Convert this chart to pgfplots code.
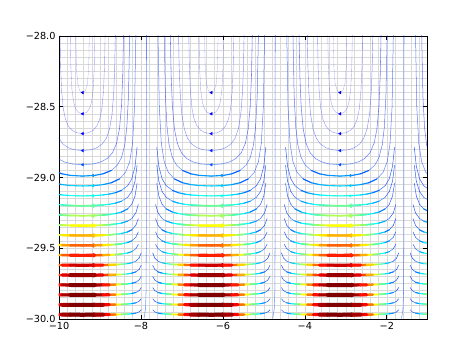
\documentclass[border=0pt]{standalone}
\usepackage{fontspec}
\setmainfont{DejaVu Sans}
\usepackage{pgfplots}
\usepackage{pgfplotstable}
\pgfplotsset{compat=1.18}

% ---- streamline templates (d = x offset from cell centre) ----
\pgfplotstableread{
d q c
-1.43 8.69 0.095
-1.38 5.068 0.136
-1.30 2.864 0.206
-1.20 1.714 0.296
-1.10 1.131 0.387
-0.95 0.655 0.522
-0.80 0.390 0.648
-0.65 0.2275 0.761
-0.50 0.123 0.855
-0.30 0.041 0.947
0 0 1
0.30 0.041 0.947
0.50 0.123 0.855
0.65 0.2275 0.761
0.80 0.390 0.648
0.95 0.655 0.522
1.10 1.131 0.387
1.20 1.714 0.296
1.30 2.864 0.206
1.38 5.068 0.136
1.43 8.69 0.095
}\TA
\pgfplotstableread{
d q c
-1.36 5.944 0.153
-1.30 3.589 0.206
-1.20 1.998 0.296
-1.10 1.272 0.387
-0.95 0.717 0.522
-0.80 0.421 0.648
-0.65 0.243 0.761
-0.50 0.131 0.855
-0.30 0.0435 0.947
0 0 1
0.30 0.0435 0.947
0.50 0.131 0.855
0.65 0.243 0.761
0.80 0.421 0.648
0.95 0.717 0.522
1.10 1.272 0.387
1.20 1.998 0.296
1.30 3.589 0.206
1.36 5.944 0.153
}\TB
\pgfplotstableread{
d q c
-1.33 7.15 0.179
-1.28 4.333 0.223
-1.20 2.498 0.296
-1.10 1.5 0.387
-0.95 0.810 0.522
-0.80 0.465 0.648
-0.65 0.265 0.761
-0.50 0.1415 0.855
-0.30 0.0467 0.947
0 0 1
0.30 0.0467 0.947
0.50 0.1415 0.855
0.65 0.265 0.761
0.80 0.465 0.648
0.95 0.810 0.522
1.10 1.5 0.387
1.20 2.498 0.296
1.28 4.333 0.223
1.33 7.15 0.179
}\TC
\pgfplotstableread{
d q c
-1.30 -27.99 0.17
-1.27 -28.497 0.17
-1.22 -28.759 0.17
-1.15 -28.888 0.17
-1.05 -28.963 0.18
-0.90 -29.0102 0.2
-0.70 -29.0373 0.246
-0.50 -29.0502 0.291
-0.30 -29.0568 0.322
0 -29.06 0.34
0.30 -29.0568 0.322
0.50 -29.0502 0.291
0.70 -29.0373 0.246
0.90 -29.0102 0.2
1.05 -28.963 0.18
1.15 -28.888 0.17
1.22 -28.759 0.17
1.27 -28.497 0.17
1.30 -27.99 0.17
}\TD
\pgfplotstableread{
d q c
-1.15 -27.98 0.16
-1.12 -28.425 0.16
-1.08 -28.646 0.16
-1.03 -28.769 0.16
-0.95 -28.859 0.17
-0.85 -28.912 0.18
-0.70 -28.9505 0.203
-0.50 -28.974 0.239
-0.30 -28.985 0.265
0 -28.99 0.28
0.30 -28.985 0.265
0.50 -28.974 0.239
0.70 -28.9505 0.203
0.85 -28.912 0.18
0.95 -28.859 0.17
1.03 -28.769 0.16
1.08 -28.646 0.16
1.12 -28.425 0.16
1.15 -27.98 0.16
}\TE
\pgfplotstableread{
d q c
-1.00 -27.994 0.15
-0.98 -28.283 0.15
-0.95 -28.495 0.15
-0.90 -28.657 0.155
-0.83 -28.7586 0.16
-0.73 -28.8252 0.165
-0.60 -28.8661 0.17
-0.45 -28.8897 0.18
-0.25 -28.9046 0.19
0 -28.91 0.20
0.25 -28.9046 0.19
0.45 -28.8897 0.18
0.60 -28.8661 0.17
0.73 -28.8252 0.165
0.83 -28.7586 0.16
0.90 -28.657 0.155
0.95 -28.495 0.15
0.98 -28.283 0.15
1.00 -27.994 0.15
}\TF
\pgfplotstableread{
d q c
-0.80 -27.99 0.14
-0.785 -28.2107 0.14
-0.76 -28.4019 0.14
-0.72 -28.5517 0.14
-0.66 -28.6563 0.145
-0.58 -28.7221 0.15
-0.48 -28.7629 0.15
-0.35 -28.7895 0.155
-0.20 -28.8041 0.16
0 -28.81 0.16
0.20 -28.8041 0.16
0.35 -28.7895 0.155
0.48 -28.7629 0.15
0.58 -28.7221 0.15
0.66 -28.6563 0.145
0.72 -28.5517 0.14
0.76 -28.4019 0.14
0.785 -28.2107 0.14
0.80 -27.99 0.14
}\TG
\pgfplotstableread{
d q c
-0.55 -27.99 0.13
-0.535 -28.2186 0.13
-0.51 -28.3903 0.13
-0.47 -28.5147 0.13
-0.42 -28.5865 0.13
-0.35 -28.6354 0.13
-0.26 -28.6658 0.13
-0.15 -28.6831 0.13
0 -28.69 0.13
0.15 -28.6831 0.13
0.26 -28.6658 0.13
0.35 -28.6354 0.13
0.42 -28.5865 0.13
0.47 -28.5147 0.13
0.51 -28.3903 0.13
0.535 -28.2186 0.13
0.55 -27.99 0.13
}\TH
\pgfplotstableread{
d q c
-0.30 -27.99 0.12
-0.285 -28.2257 0.12
-0.26 -28.3753 0.12
-0.22 -28.4664 0.12
-0.17 -28.5126 0.12
-0.10 -28.5396 0.12
0 -28.55 0.12
0.10 -28.5396 0.12
0.17 -28.5126 0.12
0.22 -28.4664 0.12
0.26 -28.3753 0.12
0.285 -28.2257 0.12
0.30 -27.99 0.12
}\TI
\pgfplotstableread{
d q c
-0.165 -27.99 0.12
-0.15 -28.218 0.12
-0.12 -28.336 0.12
-0.07 -28.3858 0.12
0 -28.40 0.12
0.07 -28.3858 0.12
0.12 -28.336 0.12
0.15 -28.218 0.12
0.165 -27.99 0.12
}\TJ
\pgfplotstableread{
d q c
1.50 -29.995 0.2
1.535 -29.93 0.2
1.55 -29.80 0.19
1.555 -29.50 0.18
1.56 -27.99 0.16
}\TEDGE
\pgfplotstableread{
d y m
0.25 -29.97 1.0
0.25 -29.90 1.0
0.25 -29.83 1.0
0.25 -29.76 1.0
0.25 -29.69 0.96
0.25 -29.62 0.91
0.25 -29.55 0.84
0.25 -29.48 0.77
0.25 -29.41 0.69
0.25 -29.34 0.62
0.25 -29.27 0.54
0.25 -29.20 0.47
}\TARa
\pgfplotstableread{
d y m
0.25 -29.13 0.39
0.25 -29.058 0.33
0.25 -28.986 0.27
0 -28.91 0.21
0 -28.81 0.16
0 -28.69 0.13
0 -28.55 0.12
0 -28.40 0.11
}\TARb

\pgfplotsset{sl/.style={mesh, line cap=round, line join=round}}

% #1 table #2 shift #3 yc #4 h #5 M #6 floor #7 layers #8 base opacity
\newcommand{\SLfull}[8]{%
\addplot[sl,line width=0.5bp,opacity=#8,point meta={max(#6,min(1,#5*\thisrow{c}))}] table[x expr={\thisrow{d}+(#2)},y expr={#3+#4*\thisrow{q}}]{#1};%
\ifnum#7>0 \addplot[sl,line width=1.1bp,point meta={max(#6,min(1,#5*\thisrow{c}))},restrict expr to domain={max(#6,min(1,#5*\thisrow{c}))}{0.2:2}] table[x expr={\thisrow{d}+(#2)},y expr={#3+#4*\thisrow{q}}]{#1};\fi
\ifnum#7>1 \addplot[sl,line width=1.7bp,point meta={max(#6,min(1,#5*\thisrow{c}))},restrict expr to domain={max(#6,min(1,#5*\thisrow{c}))}{0.4:2}] table[x expr={\thisrow{d}+(#2)},y expr={#3+#4*\thisrow{q}}]{#1};\fi
\ifnum#7>2 \addplot[sl,line width=2.4bp,point meta={max(#6,min(1,#5*\thisrow{c}))},restrict expr to domain={max(#6,min(1,#5*\thisrow{c}))}{0.6:2}] table[x expr={\thisrow{d}+(#2)},y expr={#3+#4*\thisrow{q}}]{#1};\fi
\ifnum#7>3 \addplot[sl,line width=3.1bp,point meta={max(#6,min(1,#5*\thisrow{c}))},restrict expr to domain={max(#6,min(1,#5*\thisrow{c}))}{0.78:2}] table[x expr={\thisrow{d}+(#2)},y expr={#3+#4*\thisrow{q}}]{#1};\fi
\ifnum#7>4 \addplot[sl,line width=4.0bp,point meta={max(#6,min(1,#5*\thisrow{c}))},restrict expr to domain={max(#6,min(1,#5*\thisrow{c}))}{0.92:2}] table[x expr={\thisrow{d}+(#2)},y expr={#3+#4*\thisrow{q}}]{#1};\fi
}
% #1 table #2 shift #3 width #4 opacity
\newcommand{\SLthin}[4]{%
\addplot[sl,line width=#3,opacity=#4,point meta=\thisrow{c}] table[x expr={\thisrow{d}+(#2)},y=q]{#1};%
}
\newcommand{\CELL}[1]{%
\SLthin{\TJ}{#1}{0.3bp}{0.3}
\SLthin{\TI}{#1}{0.35bp}{0.35}
\SLthin{\TH}{#1}{0.4bp}{0.4}
\SLthin{\TG}{#1}{0.45bp}{0.45}
\SLthin{\TF}{#1}{0.55bp}{0.55}
\SLthin{\TEDGE}{#1}{0.55bp}{0.55}
\SLfull{\TE}{#1}{0}{1}{1}{0.15}{1}{0.6}
\SLfull{\TD}{#1}{0}{1}{1}{0.15}{1}{0.6}
\SLfull{\TC}{#1}{-29.13}{0.048}{0.41}{0.18}{2}{0.8}
\SLfull{\TC}{#1}{-29.20}{0.040}{0.49}{0.18}{2}{0.8}
\SLfull{\TC}{#1}{-29.27}{0.032}{0.56}{0.18}{2}{0.8}
\SLfull{\TB}{#1}{-29.34}{0.025}{0.64}{0.18}{3}{0.85}
\SLfull{\TB}{#1}{-29.41}{0.020}{0.72}{0.18}{3}{0.85}
\SLfull{\TB}{#1}{-29.48}{0.016}{0.80}{0.18}{4}{0.85}
\SLfull{\TB}{#1}{-29.55}{0.013}{0.87}{0.18}{4}{0.85}
\SLfull{\TA}{#1}{-29.62}{0.010}{0.95}{0.18}{5}{0.9}
\SLfull{\TA}{#1}{-29.69}{0.008}{1.00}{0.18}{5}{0.9}
\SLfull{\TA}{#1}{-29.76}{0.007}{1.05}{0.18}{5}{0.9}
\SLfull{\TA}{#1}{-29.83}{0.006}{1.07}{0.18}{5}{0.9}
\SLfull{\TA}{#1}{-29.90}{0.005}{1.08}{0.18}{5}{0.9}
\SLfull{\TA}{#1}{-29.97}{0.004}{1.08}{0.18}{5}{0.9}
\addplot[scatter,only marks,mark=triangle*,mark size=2.4bp,mark options={rotate=90},point meta=\thisrow{m},scatter/use mapped color={draw=mapped color,fill=mapped color}] table[x expr={\thisrow{d}+(#1)},y=y]{\TARa};
\addplot[scatter,only marks,mark=triangle*,mark size=1.5bp,mark options={rotate=90},point meta=\thisrow{m},scatter/use mapped color={draw=mapped color,fill=mapped color}] table[x expr={\thisrow{d}+(#1)},y=y]{\TARb};
}

\begin{document}
\begin{tikzpicture}
\begin{axis}[
  at={(0,0)}, anchor=south west,
  scale only axis, width=368bp, height=283bp,
  xmin=-10, xmax=-1.02, ymin=-30, ymax=-28,
  xtick={-10,-8,-6,-4,-2},
  xticklabels={−10,−8,−6,−4,−2},
  ytick={-30,-29.5,-29,-28.5,-28},
  yticklabels={−30.0,−29.5,−29.0,−28.5,−28.0},
  minor xtick={-9.8,-9.6,...,-1.1},
  minor ytick={-29.95,-29.9,...,-28.04},
  grid=both,
  major grid style={draw=gray!30, line width=0.55bp},
  minor grid style={draw=gray!30, line width=0.55bp},
  minor tick length=0pt,
  major tick length=4bp,
  tick align=inside,
  tick style={black, line width=0.7bp},
  axis line style={black, line width=0.9bp},
  tick label style={font=\fontsize{9.7bp}{11bp}\selectfont},
  colormap/jet,
  point meta min=0, point meta max=1,
]
\CELL{-9.4248}
\CELL{-6.2832}
\CELL{-3.1416}
\CELL{0}
\end{axis}
\pgfresetboundingbox
\path[use as bounding box] (-59bp,-36bp) rectangle (415bp,319bp);
\end{tikzpicture}
\end{document}
